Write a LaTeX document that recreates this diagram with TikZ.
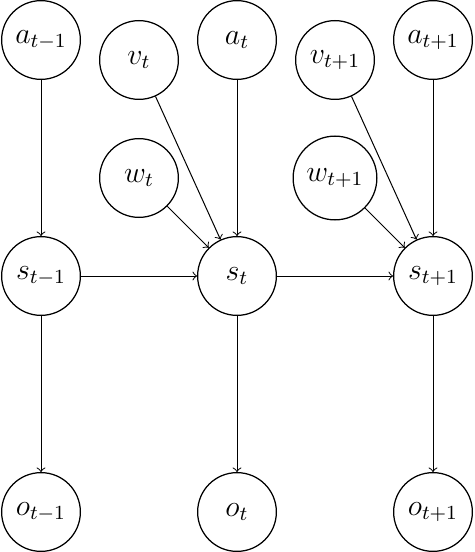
\documentclass[tikz,border=0pt]{standalone}
\usetikzlibrary{arrows}
\begin{document}
\begin{tikzpicture}[x=0.4pt,y=-0.4pt,
  var/.style={draw,circle,line width=0.5pt,minimum size=31.5pt,inner sep=1pt,
    font=\fontsize{12pt}{14pt}\selectfont},
  bigvar/.style={var,minimum size=33.5pt},
  link/.style={->,line width=0.4pt}]
\useasboundingbox (0,0) rectangle (474,552);
\node[var] (am) at (41,40) {$a_{t-1}$};
\node[var] (vt) at (139,60) {$v_t$};
\node[var] (at) at (237,40) {$a_t$};
\node[var] (vp) at (335,60) {$v_{t+1}$};
\node[var] (ap) at (433,40) {$a_{t+1}$};
\node[var] (wt) at (139,178) {$w_t$};
\node[bigvar] (wp) at (335,178) {$w_{t+1}$};
\node[var] (sm) at (41,276) {$s_{t-1}$};
\node[var] (st) at (237,276) {$s_t$};
\node[var] (sp) at (433,276) {$s_{t+1}$};
\node[var] (om) at (41,512) {$o_{t-1}$};
\node[var] (ot) at (237,512) {$o_t$};
\node[var] (op) at (433,512) {$o_{t+1}$};
\draw[link] (am) -- (sm);
\draw[link] (at) -- (st);
\draw[link] (ap) -- (sp);
\draw[link] (vt) -- (st);
\draw[link] (wt) -- (st);
\draw[link] (vp) -- (sp);
\draw[link] (wp) -- (sp);
\draw[link] (sm) -- (st);
\draw[link] (st) -- (sp);
\draw[link] (sm) -- (om);
\draw[link] (st) -- (ot);
\draw[link] (sp) -- (op);
\end{tikzpicture}
\end{document}
